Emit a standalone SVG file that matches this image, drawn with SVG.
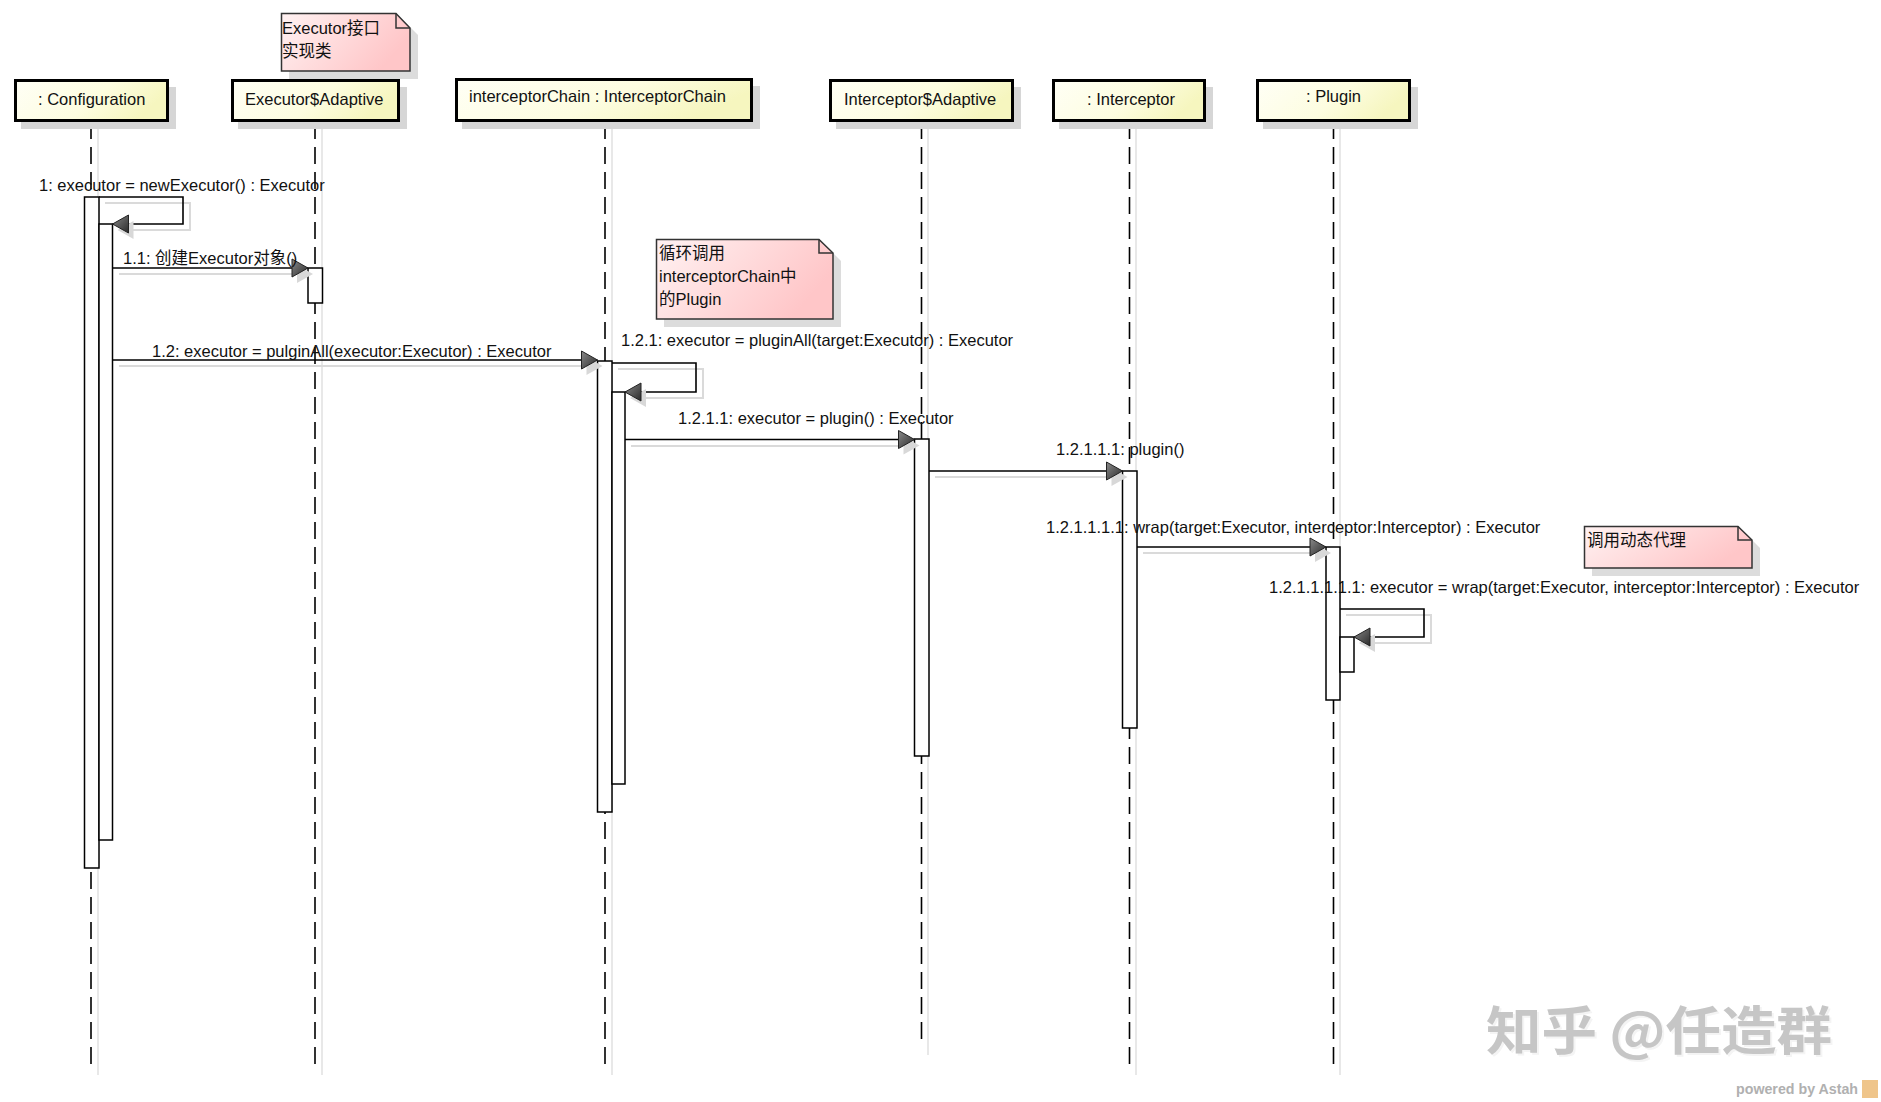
<svg xmlns="http://www.w3.org/2000/svg" width="1881" height="1102" viewBox="0 0 1881 1102">
<style>
  .txt { font-family: "Liberation Sans", Arial, "Noto Sans CJK SC", sans-serif; font-size: 16.5px; fill: #111; }
  .box { fill: url(#boxFill); stroke: #000; stroke-width: 3; }
  .boxsh { fill: #d6d6d6; }
  .note { fill: url(#noteFill); stroke: #333; stroke-width: 1.5; }
  .fold { fill: none; stroke: #333; stroke-width: 1.5; }
  .notesh { fill: #dcdcdc; }
  .life { stroke: #000; stroke-width: 1.6; stroke-dasharray: 17 8; fill: none; }
  .lifesh { stroke: #e0e0e0; stroke-width: 1.5; fill: none; }
  .act { fill: #fff; stroke: #000; stroke-width: 1.5; }
  .msg { fill: none; stroke: #000; stroke-width: 1.6; }
  .msgsh { fill: none; stroke: #dadada; stroke-width: 2; }
  .r { marker-end: url(#arrowR); }
  .l { marker-end: url(#arrowL); }
</style>
<defs>
  <linearGradient id="boxFill" x1="0" y1="0" x2="1" y2="0.3">
    <stop offset="0" stop-color="#fffff6"/>
    <stop offset="0.6" stop-color="#fdfde0"/>
    <stop offset="1" stop-color="#f6f6bf"/>
  </linearGradient>
  <linearGradient id="noteFill" x1="0" y1="0" x2="1" y2="0.4">
    <stop offset="0" stop-color="#fff2f2"/>
    <stop offset="1" stop-color="#ffc6c8"/>
  </linearGradient>
  <linearGradient id="arrowFill" x1="0" y1="0" x2="1" y2="1">
    <stop offset="0" stop-color="#8a8a8a"/>
    <stop offset="1" stop-color="#2a2a2a"/>
  </linearGradient>
  <marker id="arrowR" markerUnits="userSpaceOnUse" markerWidth="40" markerHeight="40" refX="0" refY="0" orient="0" overflow="visible">
    <polygon points="-11,-3 5,6 -11,15" fill="#d8d8d8"/>
    <polygon points="-16,-9 0,0 -16,9" fill="url(#arrowFill)" stroke="#222" stroke-width="1"/>
  </marker>
  <marker id="arrowL" markerUnits="userSpaceOnUse" markerWidth="40" markerHeight="40" refX="0" refY="0" orient="0" overflow="visible">
    <polygon points="21,-3 5,6 21,15" fill="#d8d8d8"/>
    <polygon points="16,-9 0,0 16,9" fill="url(#arrowFill)" stroke="#222" stroke-width="1"/>
  </marker>
</defs>
<rect width="1881" height="1102" fill="#fff"/>

<!-- Notes -->
<g id="note-executor-impl">
  <path class="notesh" d="M289,21 H404 L418,35 V79 H289 Z"/>
  <path class="note" d="M281.5,13.5 H396 L410,28 V71 H281.5 Z"/>
  <path class="fold" d="M396,13.5 V28 H410"/>
  <text class="txt" x="282" y="34">Executor接口</text>
  <text class="txt" x="282" y="57">实现类</text>
</g>
<g id="note-loop">
  <path class="notesh" d="M664,247 H827 L841,261 V327 H664 Z"/>
  <path class="note" d="M656.5,239.5 H819 L833,253 V319 H656.5 Z"/>
  <path class="fold" d="M819,239.5 V253 H833"/>
  <text class="txt" x="659" y="259">循环调用</text>
  <text class="txt" x="659" y="282">interceptorChain中</text>
  <text class="txt" x="659" y="305">的Plugin</text>
</g>
<g id="note-proxy">
  <path class="notesh" d="M1592,534 H1746 L1760,548 V576 H1592 Z"/>
  <path class="note" d="M1584.5,526.5 H1738 L1752,540 V568 H1584.5 Z"/>
  <path class="fold" d="M1738,526.5 V540 H1752"/>
  <text class="txt" x="1587" y="546">调用动态代理</text>
</g>

<!-- Lifelines -->
<g id="configuration">
  <line class="lifesh" x1="98" y1="128" x2="98" y2="1075"/>
  <line class="life" x1="91" y1="122" x2="91" y2="1068"/>
  <rect class="boxsh" x="21" y="87" width="155" height="42"/>
  <rect class="box" x="15.5" y="80.5" width="152" height="40"/>
  <text class="txt" x="38" y="105">: Configuration</text>
  <rect class="act" x="84.5" y="197" width="14.5" height="671"/>
  <rect class="act" x="99" y="224" width="13.5" height="616"/>
</g>
<g id="executor-adaptive">
  <line class="lifesh" x1="322" y1="128" x2="322" y2="1075"/>
  <line class="life" x1="315" y1="122" x2="315" y2="1068"/>
  <rect class="boxsh" x="238" y="87" width="169" height="42"/>
  <rect class="box" x="232.5" y="80.5" width="166" height="40"/>
  <text class="txt" x="245" y="105">Executor$Adaptive</text>
  <rect class="act" x="308" y="268" width="14.5" height="35"/>
</g>
<g id="interceptor-chain">
  <line class="lifesh" x1="612" y1="128" x2="612" y2="1075"/>
  <line class="life" x1="605" y1="122" x2="605" y2="1068"/>
  <rect class="boxsh" x="462" y="86" width="298" height="43"/>
  <rect class="box" x="456.5" y="79.5" width="295" height="41"/>
  <text class="txt" x="469" y="102">interceptorChain : InterceptorChain</text>
  <rect class="act" x="597.5" y="361" width="14.5" height="451"/>
  <rect class="act" x="612" y="392" width="13" height="392"/>
</g>
<g id="interceptor-adaptive">
  <line class="lifesh" x1="928" y1="128" x2="928" y2="1055"/>
  <line class="life" x1="921.5" y1="122" x2="921.5" y2="1045"/>
  <rect class="boxsh" x="836" y="87" width="185" height="42"/>
  <rect class="box" x="830.5" y="80.5" width="182" height="40"/>
  <text class="txt" x="844" y="105">Interceptor$Adaptive</text>
  <rect class="act" x="914.5" y="439" width="14.5" height="317"/>
</g>
<g id="interceptor">
  <line class="lifesh" x1="1136" y1="128" x2="1136" y2="1075"/>
  <line class="life" x1="1129.5" y1="122" x2="1129.5" y2="1068"/>
  <rect class="boxsh" x="1059" y="87" width="154" height="42"/>
  <rect class="box" x="1053.5" y="80.5" width="151" height="40"/>
  <text class="txt" x="1087" y="105">: Interceptor</text>
  <rect class="act" x="1122.5" y="471" width="14.5" height="257"/>
</g>
<g id="plugin">
  <line class="lifesh" x1="1340" y1="128" x2="1340" y2="1075"/>
  <line class="life" x1="1333.5" y1="122" x2="1333.5" y2="1068"/>
  <rect class="boxsh" x="1263" y="87" width="155" height="42"/>
  <rect class="box" x="1257.5" y="80.5" width="152" height="40"/>
  <text class="txt" x="1306" y="102">: Plugin</text>
  <rect class="act" x="1326" y="547" width="14" height="153"/>
  <rect class="act" x="1340" y="637" width="14" height="35"/>
</g>

<!-- Connectors -->
<g id="connectors">
  <path class="msgsh" d="M105,203 H190 V230 H130"/>
  <path class="msg l" d="M99,197 H183 V224 H112.5"/>
  <text class="txt" x="39" y="191">1: executor = newExecutor() : Executor</text>

  <path class="msgsh" d="M119,274 H296"/>
  <path class="msg r" d="M112.5,268 H308"/>
  <text class="txt" x="123" y="264">1.1: 创建Executor对象()</text>

  <path class="msgsh" d="M119,366 H585"/>
  <path class="msg r" d="M112.5,360 H597.5"/>
  <text class="txt" x="152" y="357">1.2: executor = pulginAll(executor:Executor) : Executor</text>

  <path class="msgsh" d="M618,369 H703 V398 H642"/>
  <path class="msg l" d="M612,363 H696 V392 H625"/>
  <text class="txt" x="621" y="346">1.2.1: executor = pluginAll(target:Executor) : Executor</text>

  <path class="msgsh" d="M631,446 H902"/>
  <path class="msg r" d="M625,439.5 H914.5"/>
  <text class="txt" x="678" y="424">1.2.1.1: executor = plugin() : Executor</text>

  <path class="msgsh" d="M935,477 H1110"/>
  <path class="msg r" d="M929,471 H1122.5"/>
  <text class="txt" x="1056" y="455">1.2.1.1.1: plugin()</text>

  <path class="msgsh" d="M1143,553 H1314"/>
  <path class="msg r" d="M1137,547 H1326"/>
  <text class="txt" x="1046" y="533">1.2.1.1.1.1: wrap(target:Executor, interceptor:Interceptor) : Executor</text>

  <path class="msgsh" d="M1346,615 H1431 V643 H1371"/>
  <path class="msg l" d="M1340,609 H1424 V637 H1354"/>
  <text class="txt" x="1269" y="593">1.2.1.1.1.1.1: executor = wrap(target:Executor, interceptor:Interceptor) : Executor</text>
</g>

<!-- Watermark and footer -->
<g id="watermark">
  <text x="1488" y="1052" font-family="'Noto Sans CJK SC', sans-serif" font-size="52" font-weight="bold" fill="#f4f4f4" textLength="346" lengthAdjust="spacingAndGlyphs">知乎 @任造群</text>
  <text x="1486" y="1050" font-family="'Noto Sans CJK SC', sans-serif" font-size="52" font-weight="bold" fill="#c6c6c6" textLength="346" lengthAdjust="spacingAndGlyphs">知乎 @任造群</text>
  <text x="1736" y="1094" font-family="'Liberation Sans', Arial, sans-serif" font-size="14" font-weight="bold" fill="#b0b0b0" textLength="122" lengthAdjust="spacingAndGlyphs">powered by Astah</text>
  <rect x="1862" y="1080" width="16" height="18" fill="#efc58a"/>
</g>
</svg>
